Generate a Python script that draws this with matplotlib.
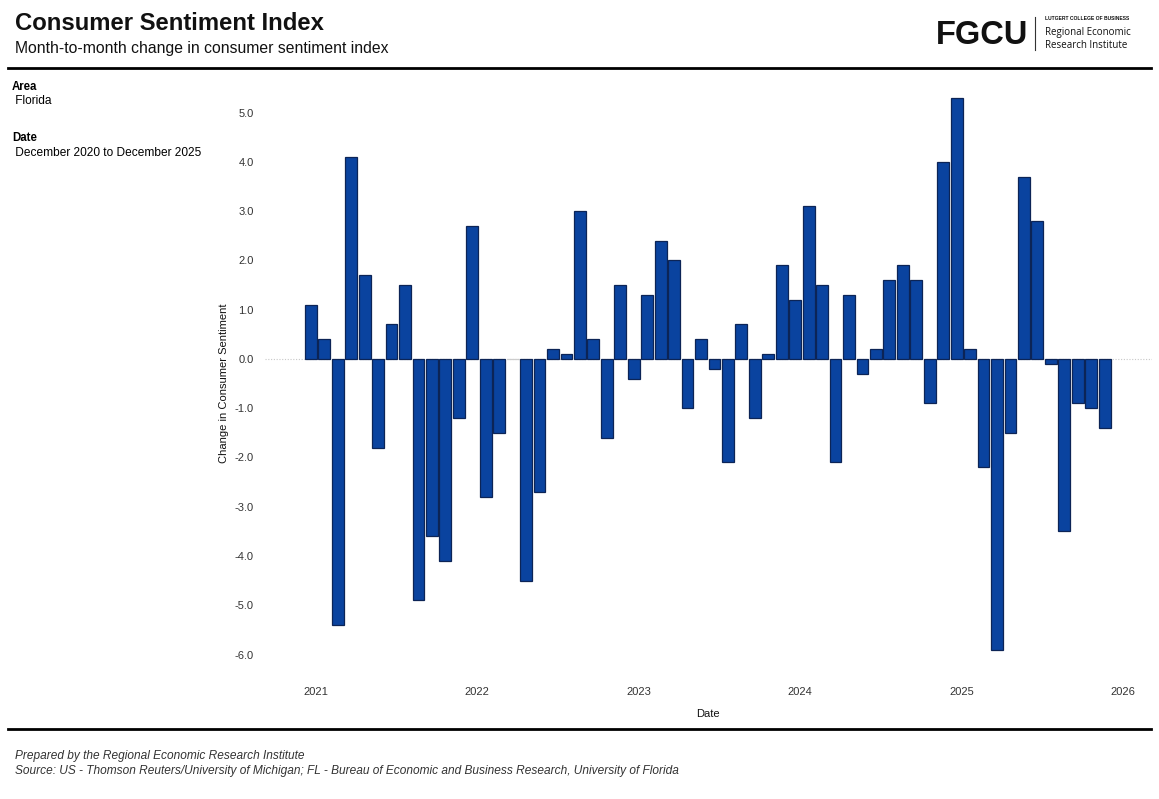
import matplotlib
matplotlib.use('Agg')
import matplotlib.pyplot as plt
import numpy as np

plt.rcParams['font.family'] = ['Liberation Sans', 'DejaVu Sans']

# monthly change, Jan 2021 .. Dec 2025
changes = [1.1, 0.4, -5.4, 4.1, 1.7, -1.8, 0.7, 1.5, -4.9, -3.6, -4.1, -1.2,
           2.7, -2.8, -1.5, 0.0, -4.5, -2.7, 0.2, 0.1, 3.0, 0.4, -1.6, 1.5,
           -0.4, 1.3, 2.4, 2.0, -1.0, 0.4, -0.2, -2.1, 0.7, -1.2, 0.1, 1.9,
           1.2, 3.1, 1.5, -2.1, 1.3, -0.3, 0.2, 1.6, 1.9, 1.6, -0.9, 4.0,
           5.3, 0.2, -2.2, -5.9, -1.5, 3.7, 2.8, -0.1, -3.5, -0.9, -1.0, -1.4]
years = ['2021', '2022', '2023', '2024', '2025', '2026']
yticks = [-6, -5, -4, -3, -2, -1, 0, 1, 2, 3, 4, 5]

bar_color = '#0a439f'
edge_color = '#0c2456'

fig = plt.figure(figsize=(11.59, 7.99), dpi=100)
ax = fig.add_axes([0.2287, 0.150, 0.765, 0.740])

x = np.arange(len(changes))
edges = ['#cccccc' if v == 0 else edge_color for v in changes]
ax.bar(x, changes, width=0.88, color=bar_color, edgecolor=edges, linewidth=0.9, zorder=3)
ax.axhline(0, color='#c8c8c8', linestyle=(0, (1, 1.5)), linewidth=0.8, zorder=1)

ax.set_xlim(-3.4, 62.5)
ax.set_ylim(-6.5, 5.5)
ax.set_xticks([0.37 + 12 * k for k in range(len(years))])
ax.set_xticklabels(years)
ax.set_yticks(yticks)
ax.set_yticklabels(['%.1f' % t for t in yticks])
ax.tick_params(length=0, labelsize=8, colors='#333333')
ax.tick_params(axis='y', pad=8)
ax.tick_params(axis='x', pad=6)
for s in ax.spines.values():
    s.set_visible(False)
ax.set_xlabel('Date', fontsize=8, color='#111111', labelpad=8)
ax.set_ylabel('Change in Consumer Sentiment', fontsize=8, color='#111111', labelpad=4)

# header
fig.text(15 / 1159, 1 - 24 / 799, 'Consumer Sentiment Index', fontsize=17.2, fontweight='bold',
         va='center', ha='left', color='#111111')
fig.text(15 / 1159, 1 - 48 / 799, 'Month-to-month change in consumer sentiment index', fontsize=11.3,
         va='center', ha='left', color='#111111')
fig.add_artist(plt.Line2D([8 / 1159, 1151 / 1159], [1 - 68 / 799] * 2, color='black', linewidth=2))
fig.add_artist(plt.Line2D([8 / 1159, 1151 / 1159], [1 - 729 / 799] * 2, color='black', linewidth=2))

# logo
fig.text(936 / 1159, 1 - 35 / 799, 'FGCU', fontsize=23.5, fontweight='bold',
         va='center', ha='left', color='#111111')
fig.add_artist(plt.Line2D([1035 / 1159] * 2, [1 - 17 / 799, 1 - 50 / 799], color='#333333', linewidth=0.8))
fig.text(1045 / 1159, 1 - 19 / 799, 'LUTGERT COLLEGE OF BUSINESS', fontsize=3.6, fontweight='bold',
         va='center', ha='left', color='#111111')
fig.text(1045 / 1159, 1 - 32 / 799, 'Regional Economic', fontsize=7, family='Open Sans',
         va='center', ha='left', color='#111111')
fig.text(1045 / 1159, 1 - 45 / 799, 'Research Institute', fontsize=7, family='Open Sans',
         va='center', ha='left', color='#111111')

# side panel
fig.text(12 / 1159, 1 - 87 / 799, 'Area', fontsize=8.3, fontweight='bold', va='center', ha='left')
fig.text(12 / 1159, 1 - 101 / 799, ' Florida', fontsize=8.6, va='center', ha='left')
fig.text(12 / 1159, 1 - 138 / 799, 'Date', fontsize=8.3, fontweight='bold', va='center', ha='left')
fig.text(12 / 1159, 1 - 153 / 799, ' December 2020 to December 2025', fontsize=8.6, va='center', ha='left')

# footer
fig.text(15 / 1159, 1 - 756 / 799, 'Prepared by the Regional Economic Research Institute', fontsize=8.55,
         style='italic', va='center', ha='left', color='#333333')
fig.text(15 / 1159, 1 - 771 / 799,
         'Source: US - Thomson Reuters/University of Michigan; FL - Bureau of Economic and Business Research, University of Florida',
         fontsize=8.55, style='italic', va='center', ha='left', color='#333333')

fig.savefig('out.png', dpi=100)
